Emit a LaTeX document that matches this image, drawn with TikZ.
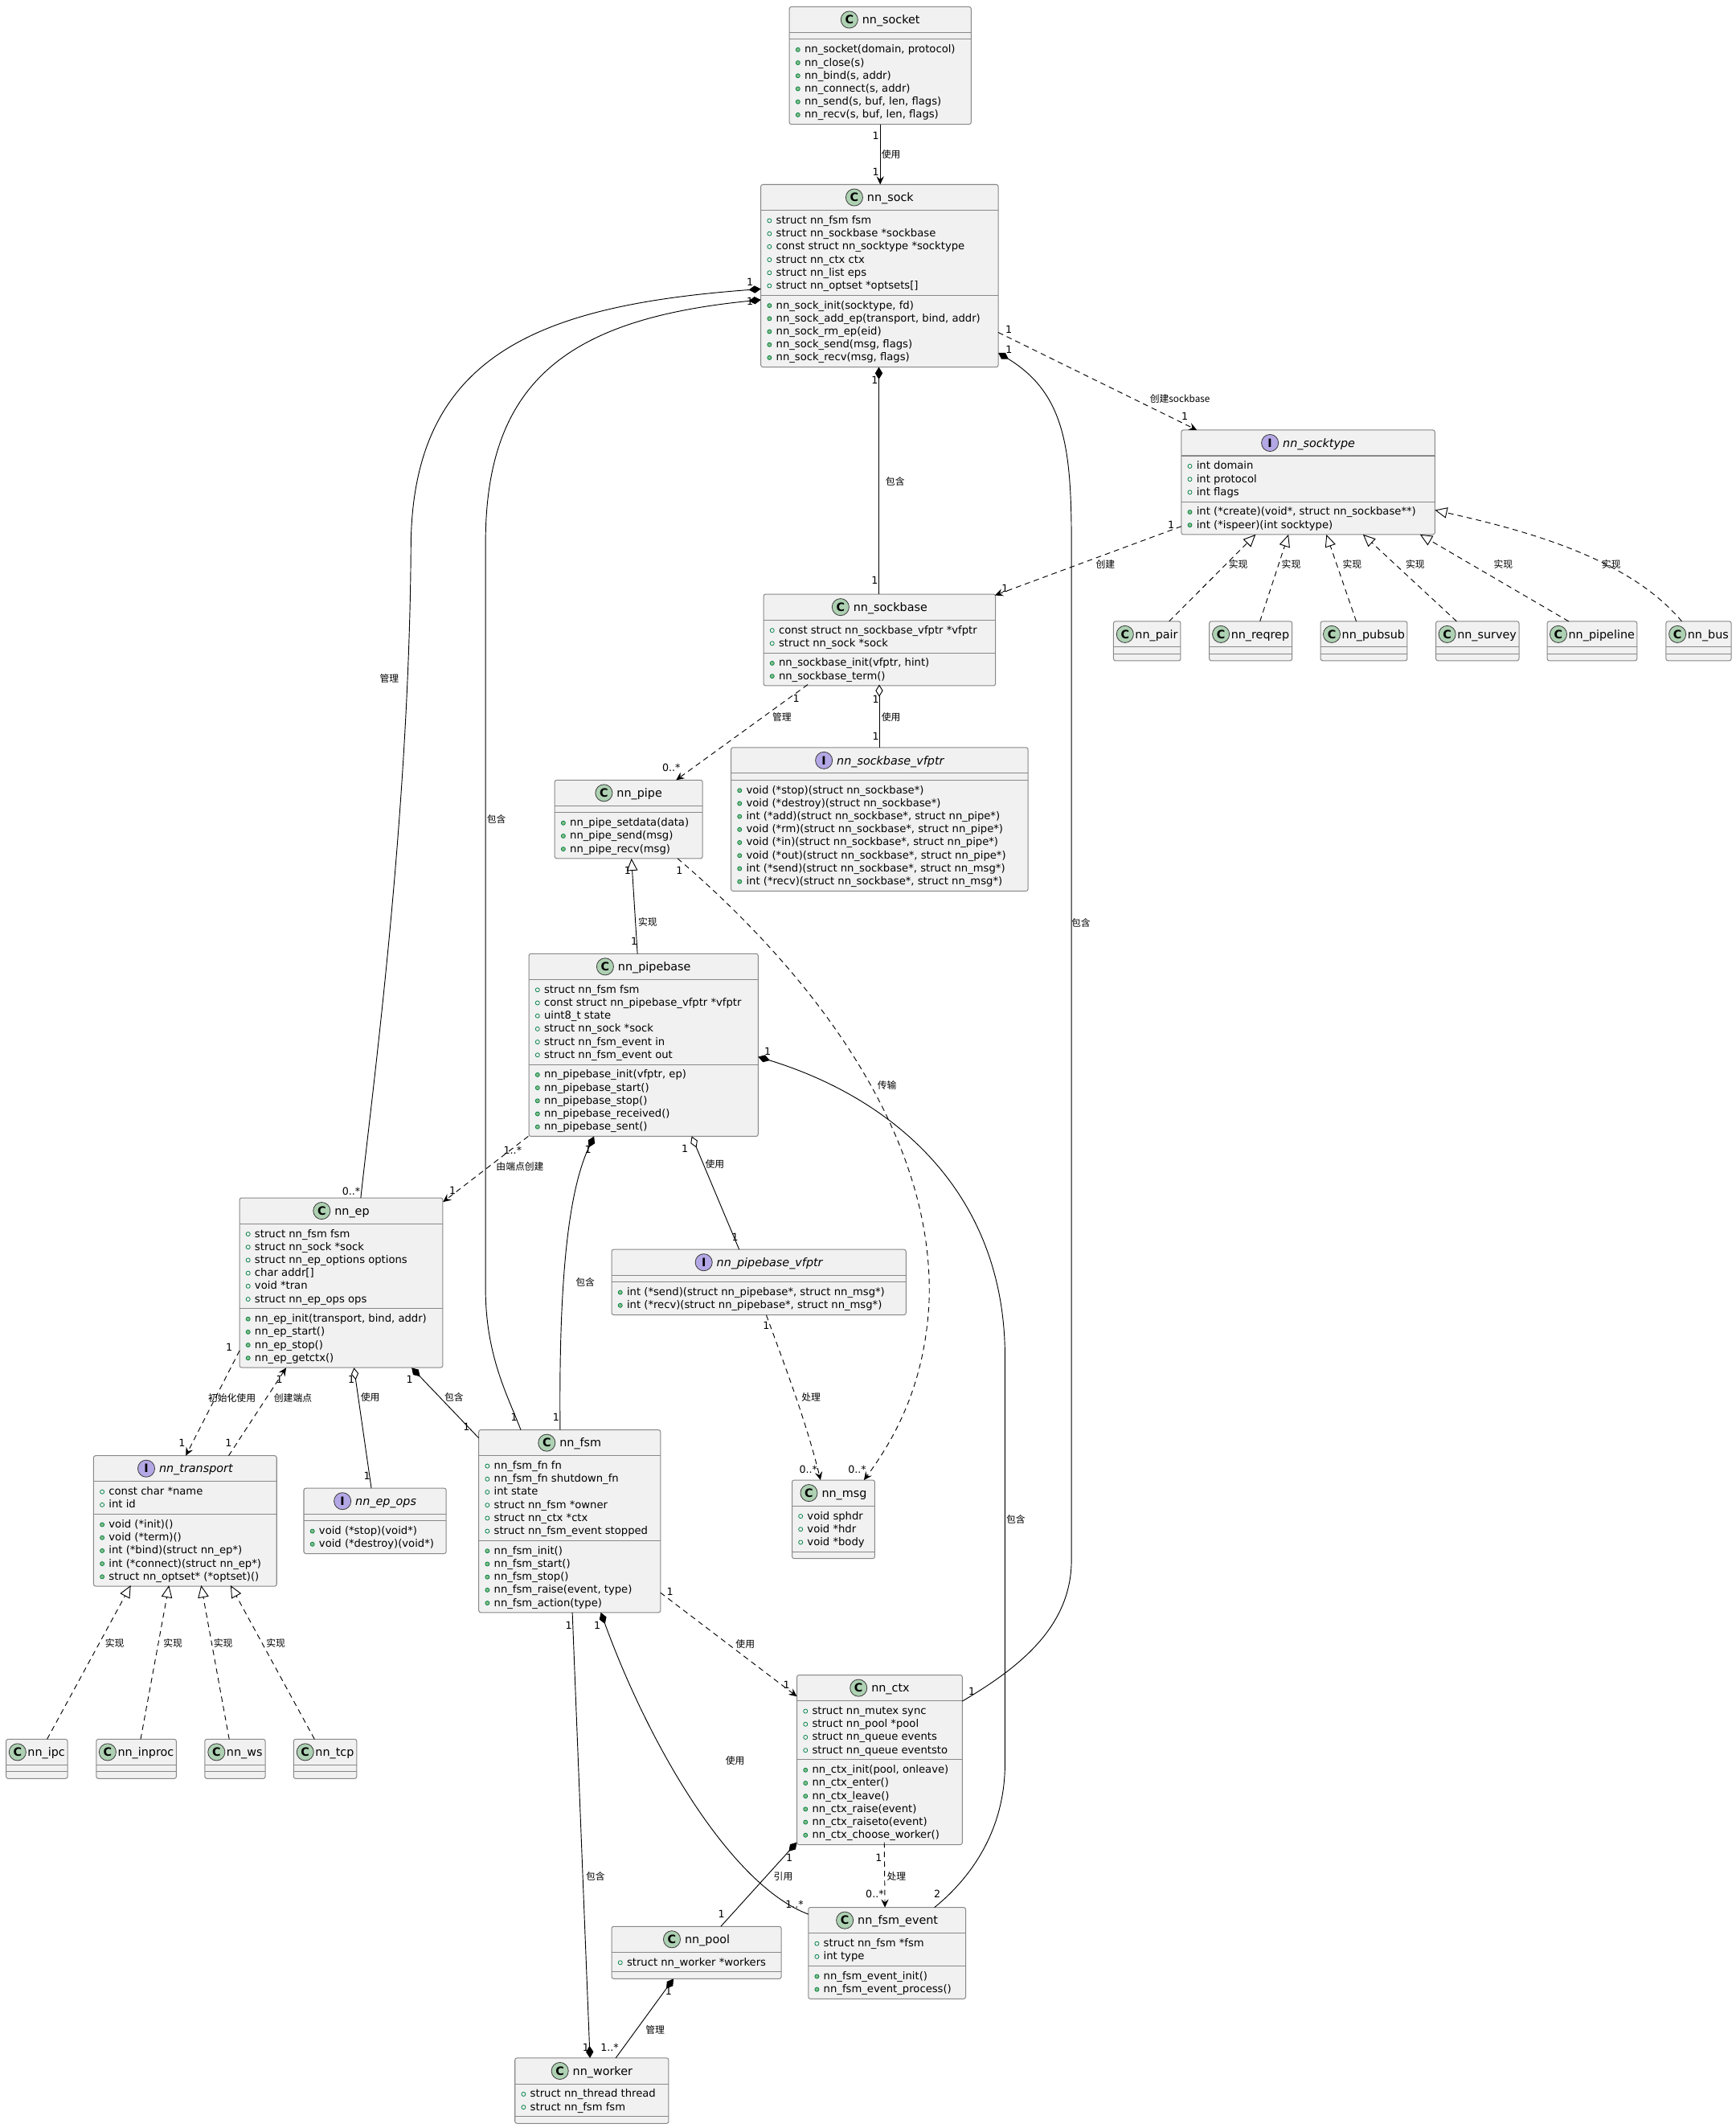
\documentclass[tikz,border=0pt]{standalone}
\usepackage{fontspec}
\setmainfont{DejaVu Sans}
\newfontfamily\cjk{Noto Sans CJK SC}
\usetikzlibrary{arrows.meta,calc}
\definecolor{boxc}{HTML}{F1F1F1}
\definecolor{bordc}{HTML}{888888}
\definecolor{iconC}{HTML}{ADD1B2}
\definecolor{iconI}{HTML}{B4A7E5}
\definecolor{mk}{HTML}{038048}
\definecolor{mkf}{HTML}{84BE84}
\newcommand\itemfont{\fontsize{7.8}{9.6}\selectfont}
\newcommand\titlefont{\fontsize{8.5}{10}\selectfont}
\newcommand\at{\tikz[baseline=-0.55ex]\draw[mk,line width=0.45pt] (0,0) circle (1.5pt);\hspace{3.2pt}}
\newcommand\mt{\tikz[baseline=-0.55ex]\draw[mk,fill=mkf,line width=0.45pt] (0,0) circle (1.5pt);\hspace{3.2pt}}
\newcommand\icon[1]{\tikz[baseline=-0.36em]\node[circle,inner sep=0pt,minimum size=12.5pt,fill=icon#1,draw=black!75,line width=0.5pt,font=\bfseries\fontsize{8.5}{9}\selectfont]{#1};}
\newcommand\ttl[2]{\if#1I\itshape\fi #2}
\newcommand\ub[9][3pt]{%
  \pgfmathsetmacro\yh{#4+19}\pgfmathsetmacro\ya{\yh+#8*9.6+5}\pgfmathsetmacro\yb{\ya+#9*9.6+5}%
  \pgfmathsetmacro\ba{\yh+0.4+#8*9.6}\pgfmathsetmacro\bm{\ya+0.4+#9*9.6}%
  \expandafter\xdef\csname bx#2\endcsname{#3}\expandafter\xdef\csname by#2\endcsname{#4}%
  \node[box,anchor=north west,minimum width={(#5-#3)*1pt},minimum height={(\yb-#4)*1pt}] (#2) at (#3,-#4) {};
  \draw[sepl] (#3,-\yh) -- (#5,-\yh); \draw[sepl] (#3,-\ya) -- (#5,-\ya);
  \node[inner sep=0pt,font=\titlefont] (#2-t) at ({(#3+#5)/2},{-(#4+9.5)}) {\icon{#6}\hspace{#1}\ttl{#6}{#7}};
  \ifnum#8>0 \node[anchor=base west,inner sep=0pt,align=left,font=\itemfont] (#2-a) at (#3+4.4,-\ba) {\A};\fi
  \ifnum#9>0 \node[anchor=base west,inner sep=0pt,align=left,font=\itemfont] (#2-m) at (#3+4.4,-\bm) {\M};\fi
}
\newcommand\nd[3]{([shift={({#2-\csname bx#1\endcsname},{\csname by#1\endcsname-#3})}]#1.north west)}
\newcommand\lb[3]{\node[lbl] at (#1,-#2) {#3};}
\newcommand\mlt[3]{\node[mul] at (#1,-#2) {#3};}
\tikzset{
  box/.style={draw=bordc,fill=boxc,rounded corners=1.5pt,line width=0.6pt,inner sep=0pt,outer sep=0pt},
  sepl/.style={draw=bordc,line width=0.6pt},
  lbl/.style={font=\cjk\fontsize{7}{8}\selectfont,inner sep=0.5pt},
  mul/.style={font=\fontsize{7.5}{8}\selectfont,inner sep=0.5pt},
  con/.style={line width=0.55pt,black},
  tip/.tip={Stealth[length=6pt,width=5.5pt,inset=2.2pt]},
  assoc/.style={con,-tip},
  dep/.style={con,dash pattern=on 4pt off 3pt,-tip},
  comp/.style={con,{Diamond[length=9pt,width=5.5pt]}-},
  agg/.style={con,{Diamond[open,fill=white,length=9pt,width=5.5pt]}-},
  real/.style={con,dash pattern=on 4pt off 3pt,-{Triangle[open,fill=white,length=9pt,width=8pt]}},
  inh/.style={con,-{Triangle[open,fill=white,length=9pt,width=8pt]}},
}
\begin{document}
\begin{tikzpicture}[x=1pt,y=1pt]
\fill[white] (0,0) rectangle (1280,-1568.6);
\useasboundingbox (0,0) rectangle (1280,-1568.6);
% ---------- classes
\def\A{}\def\M{\mt nn\_socket(domain, protocol)\\\mt nn\_close(s)\\\mt nn\_bind(s, addr)\\\mt nn\_connect(s, addr)\\\mt nn\_send(s, buf, len, flags)\\\mt nn\_recv(s, buf, len, flags)}
\ub{socket}{582}{5}{716}{C}{nn\_socket}{0}{6}
\def\A{\at struct nn\_fsm fsm\\\at struct nn\_sockbase *sockbase\\\at const struct nn\_socktype *socktype\\\at struct nn\_ctx ctx\\\at struct nn\_list eps\\\at struct nn\_optset *optsets[]}
\def\M{\mt nn\_sock\_init(socktype, fd)\\\mt nn\_sock\_add\_ep(transport, bind, addr)\\\mt nn\_sock\_rm\_ep(eid)\\\mt nn\_sock\_send(msg, flags)\\\mt nn\_sock\_recv(msg, flags)}
\ub{sock}{561}{136}{736}{C}{nn\_sock}{6}{5}
\def\A{\at int domain\\\at int protocol\\\at int flags}
\def\M{\mt int (*create)(void*, struct nn\_sockbase**)\\\mt int (*ispeer)(int socktype)}
\ub{socktype}{871}{317}{1058}{I}{nn\_socktype}{3}{2}
\def\A{}\def\M{}
\ub[1pt]{pair}{821}{458}{870.5}{C}{nn\_pair}{0}{0}
\ub[1pt]{reqrep}{891.6}{458}{952.7}{C}{nn\_reqrep}{0}{0}
\ub[1pt]{pubsub}{973.7}{458}{1037.6}{C}{nn\_pubsub}{0}{0}
\ub[1pt]{survey}{1058.7}{458}{1120}{C}{nn\_survey}{0}{0}
\ub[1pt]{pipeline}{1140.8}{458}{1207}{C}{nn\_pipeline}{0}{0}
\ub[1pt]{bus}{1228.4}{458}{1276.5}{C}{nn\_bus}{0}{0}
\def\A{\at const struct nn\_sockbase\_vfptr *vfptr\\\at struct nn\_sock *sock}
\def\M{\mt nn\_sockbase\_init(vfptr, hint)\\\mt nn\_sockbase\_term()}
\ub{sockbase}{563}{438}{734}{C}{nn\_sockbase}{2}{2}
\def\A{}
\def\M{\mt void (*stop)(struct nn\_sockbase*)\\\mt void (*destroy)(struct nn\_sockbase*)\\\mt int (*add)(struct nn\_sockbase*, struct nn\_pipe*)\\\mt void (*rm)(struct nn\_sockbase*, struct nn\_pipe*)\\\mt void (*in)(struct nn\_sockbase*, struct nn\_pipe*)\\\mt void (*out)(struct nn\_sockbase*, struct nn\_pipe*)\\\mt int (*send)(struct nn\_sockbase*, struct nn\_msg*)\\\mt int (*recv)(struct nn\_sockbase*, struct nn\_msg*)}
\ub{svf}{539}{551}{758}{I}{nn\_sockbase\_vfptr}{0}{8}
\def\M{\mt nn\_pipe\_setdata(data)\\\mt nn\_pipe\_send(msg)\\\mt nn\_pipe\_recv(msg)}
\ub{pipe}{409}{575}{518}{C}{nn\_pipe}{0}{3}
\def\A{\at struct nn\_fsm fsm\\\at const struct nn\_pipebase\_vfptr *vfptr\\\at uint8\_t state\\\at struct nn\_sock *sock\\\at struct nn\_fsm\_event in\\\at struct nn\_fsm\_event out}
\def\M{\mt nn\_pipebase\_init(vfptr, ep)\\\mt nn\_pipebase\_start()\\\mt nn\_pipebase\_stop()\\\mt nn\_pipebase\_received()\\\mt nn\_pipebase\_sent()}
\ub{pipebase}{390}{703}{559}{C}{nn\_pipebase}{6}{5}
\def\A{\at struct nn\_fsm fsm\\\at struct nn\_sock *sock\\\at struct nn\_ep\_options options\\\at char addr[]\\\at void *tran\\\at struct nn\_ep\_ops ops}
\def\M{\mt nn\_ep\_init(transport, bind, addr)\\\mt nn\_ep\_start()\\\mt nn\_ep\_stop()\\\mt nn\_ep\_getctx()}
\ub{ep}{176.6}{883}{326.5}{C}{nn\_ep}{6}{4}
\def\A{}
\def\M{\mt int (*send)(struct nn\_pipebase*, struct nn\_msg*)\\\mt int (*recv)(struct nn\_pipebase*, struct nn\_msg*)}
\ub{pvf}{451}{921}{668}{I}{nn\_pipebase\_vfptr}{0}{2}
\def\A{\at const char *name\\\at int id}
\def\M{\mt void (*init)()\\\mt void (*term)()\\\mt int (*bind)(struct nn\_ep*)\\\mt int (*connect)(struct nn\_ep*)\\\mt struct nn\_optset* (*optset)()}
\ub{transport}{69}{1073}{204}{I}{nn\_transport}{2}{5}
\def\A{}
\def\M{\mt void (*stop)(void*)\\\mt void (*destroy)(void*)}
\ub{epops}{224}{1097}{329}{I}{nn\_ep\_ops}{0}{2}
\def\A{\at nn\_fsm\_fn fn\\\at nn\_fsm\_fn shutdown\_fn\\\at int state\\\at struct nn\_fsm *owner\\\at struct nn\_ctx *ctx\\\at struct nn\_fsm\_event stopped}
\def\M{\mt nn\_fsm\_init()\\\mt nn\_fsm\_start()\\\mt nn\_fsm\_stop()\\\mt nn\_fsm\_raise(event, type)\\\mt nn\_fsm\_action(type)}
\ub{fsm}{353}{1054}{487}{C}{nn\_fsm}{6}{5}
\def\A{\at void sphdr\\\at void *hdr\\\at void *body}\def\M{}
\ub{msg}{584}{1091}{645}{C}{nn\_msg}{3}{0}
\def\A{}
\ub[1pt]{ipc}{4.5}{1282}{49.8}{C}{nn\_ipc}{0}{0}
\ub[1pt]{inproc}{71}{1282}{130}{C}{nn\_inproc}{0}{0}
\ub[1pt]{ws}{151}{1282}{195.6}{C}{nn\_ws}{0}{0}
\ub[1pt]{tcp}{216.5}{1282}{263}{C}{nn\_tcp}{0}{0}
\def\A{\at struct nn\_mutex sync\\\at struct nn\_pool *pool\\\at struct nn\_queue events\\\at struct nn\_queue eventsto}
\def\M{\mt nn\_ctx\_init(pool, onleave)\\\mt nn\_ctx\_enter()\\\mt nn\_ctx\_leave()\\\mt nn\_ctx\_raise(event)\\\mt nn\_ctx\_raiseto(event)\\\mt nn\_ctx\_choose\_worker()}
\ub{ctx}{587.6}{1234.7}{709.5}{C}{nn\_ctx}{4}{6}
\def\A{\at struct nn\_worker *workers}\def\M{}
\ub{pool}{451}{1420}{576}{C}{nn\_pool}{1}{0}
\def\A{\at struct nn\_fsm *fsm\\\at int type}
\def\M{\mt nn\_fsm\_event\_init()\\\mt nn\_fsm\_event\_process()}
\ub{fevent}{596}{1406}{712}{C}{nn\_fsm\_event}{2}{2}
\def\A{\at struct nn\_thread thread\\\at struct nn\_fsm fsm}\def\M{}
\ub{worker}{379.7}{1517}{493}{C}{nn\_worker}{2}{0}
% ---------- connectors
\draw[assoc] \nd{socket}{649}{91.6} -- \nd{sock}{649}{136};
\draw[comp] \nd{sock}{648}{270.6} -- \nd{sockbase}{648}{438};
\draw[dep] \nd{sock}{736}{245} -- \nd{socktype}{882.5}{317};
\draw[comp] \nd{sock}{736}{260} .. controls (785,-290) and (790,-330) .. (790,-400) -- (790,-1150) .. controls (790,-1200) and (750,-1230) .. \nd{ctx}{709.5}{1254};
\draw[comp] \nd{sock}{561}{213} .. controls (400,-225) and (305,-260) .. (303,-400) .. controls (302,-600) and (275,-800) .. \nd{ep}{266}{883};
\draw[comp] \nd{sock}{561}{221} .. controls (420,-235) and (358,-280) .. (358,-400) -- (358,-950) .. controls (358,-1000) and (375,-1030) .. \nd{fsm}{384}{1054};
\draw[dep] \nd{socktype}{871}{388} -- \nd{sockbase}{733.6}{438.8};
\draw[real] \nd{pair}{862}{458} -- \nd{socktype}{925.8}{394};
\draw[real] \nd{reqrep}{929}{458} -- \nd{socktype}{950}{394};
\draw[real] \nd{pubsub}{1000}{458} -- \nd{socktype}{978}{394};
\draw[real] \nd{survey}{1074}{458} -- \nd{socktype}{1005}{394};
\draw[real] \nd{pipeline}{1156.6}{458} -- \nd{socktype}{1047}{394};
\draw[real] \nd{bus}{1240}{458} .. controls (1200,-410) and (1120,-390) .. \nd{socktype}{1058}{376};
\draw[dep] \nd{sockbase}{595.6}{504.6} -- \nd{pipe}{498.5}{575};
\draw[agg] \nd{sockbase}{648.3}{504.6} -- \nd{svf}{648.3}{551};
\draw[inh] \nd{pipebase}{470}{703} -- \nd{pipe}{465.6}{632.8};
\draw[dep] \nd{pipe}{499.6}{632.8} .. controls (590,-710) and (690,-830) .. (685,-960) .. controls (682,-1020) and (660,-1060) .. \nd{msg}{637}{1091};
\draw[dep] \nd{pipebase}{389.5}{837.6} -- \nd{ep}{326.6}{886};
\draw[comp] \nd{pipebase}{438}{837.6} .. controls (418,-880) and (412,-950) .. \nd{fsm}{413}{1054};
\draw[agg] \nd{pipebase}{510}{837.6} -- \nd{pvf}{545}{921};
\draw[comp] \nd{pipebase}{559}{779} .. controls (660,-810) and (741,-880) .. (741,-1000) -- (741,-1300) .. controls (741,-1350) and (715,-1385) .. \nd{fevent}{689}{1406};
\draw[dep] \nd{pvf}{565}{969.4} .. controls (580,-1010) and (595,-1050) .. \nd{msg}{605}{1091};
\draw[dep] \nd{ep}{176.6}{995.6} -- \nd{transport}{137}{1073};
\draw[dep] \nd{transport}{168.6}{1073} -- \nd{ep}{211}{1008.2};
\draw[agg] \nd{ep}{261}{1008.2} -- \nd{epops}{273.8}{1097};
\draw[comp] \nd{ep}{303.5}{1008.2} -- \nd{fsm}{353}{1060};
\draw[real] \nd{ipc}{34.7}{1282} -- \nd{transport}{96.4}{1168.6};
\draw[real] \nd{inproc}{103.7}{1282} -- \nd{transport}{124.6}{1168.6};
\draw[real] \nd{ws}{169}{1282} -- \nd{transport}{148.3}{1168.6};
\draw[real] \nd{tcp}{231.9}{1282} -- \nd{transport}{170}{1168.6};
\draw[dep] \nd{fsm}{487}{1174} -- \nd{ctx}{587.6}{1250.5};
\draw[comp] \nd{fsm}{443}{1188.6} .. controls (480,-1290) and (540,-1390) .. \nd{fevent}{596}{1411};
\draw[con,-{Diamond[length=9pt,width=5.5pt]}] \nd{fsm}{422}{1188.6} -- \nd{worker}{435}{1517};
\draw[comp] \nd{ctx}{587.6}{1358} -- \nd{pool}{531.5}{1420};
\draw[dep] \nd{ctx}{652}{1358} -- \nd{fevent}{652.5}{1406};
\draw[comp] \nd{pool}{496.6}{1458.6} -- \nd{worker}{454}{1517};
% ---------- labels
\mlt{645.7}{99.8}{1}\mlt{645.7}{126.5}{1}\lb{657}{113.6}{使用}
\mlt{645}{280}{1}\mlt{645}{428}{1}\lb{660}{355}{包含}
\mlt{743.8}{243}{1}\mlt{873.5}{307}{1}\lb{870}{294}{创建sockbase}
\mlt{744}{258}{1}\mlt{716.6}{1247}{1}\lb{797}{680}{包含}
\mlt{553}{208}{1}\mlt{259}{878}{0..*}\lb{287}{500}{管理}
\mlt{553}{222}{1}\mlt{379}{1044.6}{1}\lb{366}{604}{包含}
\mlt{863.5}{387}{1}\mlt{741}{434}{1}\lb{815}{416}{创建}
\lb{913}{416}{实现}\lb{952}{416}{实现}\lb{997}{416}{实现}\lb{1043.5}{416}{实现}\lb{1108.4}{416}{实现}\lb{1188}{416}{实现}
\mlt{587}{515}{1}\mlt{495}{566}{0..*}\lb{576.5}{528.6}{管理}
\mlt{645.7}{515.6}{1}\mlt{645.7}{542.7}{1}\lb{657}{528.6}{使用}
\mlt{462.7}{641.8}{1}\mlt{467.6}{693.7}{1}\lb{477.6}{679.5}{实现}
\mlt{501}{642}{1}\mlt{632}{1083}{0..*}\lb{654}{800}{传输}
\mlt{378}{847.6}{1..*}\mlt{333.7}{877.7}{1}\lb{383.4}{860}{由端点创建}
\mlt{433.6}{847.4}{1}\mlt{410}{1044.6}{1}\lb{431.5}{945}{包含}
\mlt{505}{847}{1}\mlt{542}{912}{1}\lb{527}{858}{使用}
\mlt{566}{775}{1}\mlt{691}{1396}{2}\lb{749}{1120}{包含}
\mlt{565}{977}{1}\mlt{596}{1083}{0..*}\lb{598}{1030}{处理}
\mlt{169}{993}{1}\mlt{134.2}{1063.7}{1}\lb{171}{1030.5}{初始化使用}
\mlt{206}{1017}{1}\mlt{168.6}{1063.7}{1}\lb{216}{1030.5}{创建端点}
\mlt{259}{1017}{1}\mlt{270.6}{1088}{1}\lb{273}{1030}{使用}
\mlt{302}{1017}{1}\mlt{344}{1052}{1}\lb{334.8}{1030}{包含}
\lb{84.5}{1211}{实现}\lb{127.5}{1211}{实现}\lb{164.5}{1211}{实现}\lb{203.3}{1211}{实现}
\mlt{494}{1173}{1}\mlt{580}{1242}{1}\lb{549.5}{1211.6}{使用}
\mlt{440.4}{1198}{1}\mlt{585.8}{1404}{1..*}\lb{542}{1298}{使用}
\mlt{419.4}{1198}{1}\mlt{432}{1509}{1}\lb{439}{1383}{包含}
\mlt{582}{1369.6}{1}\mlt{532}{1411}{1}\lb{577.5}{1383}{引用}
\mlt{648}{1369.6}{1}\mlt{645}{1396}{0..*}\lb{661}{1383}{处理}
\mlt{493}{1468}{1}\mlt{449.5}{1509}{1..*}\lb{483}{1496}{管理}
\end{tikzpicture}
\end{document}
